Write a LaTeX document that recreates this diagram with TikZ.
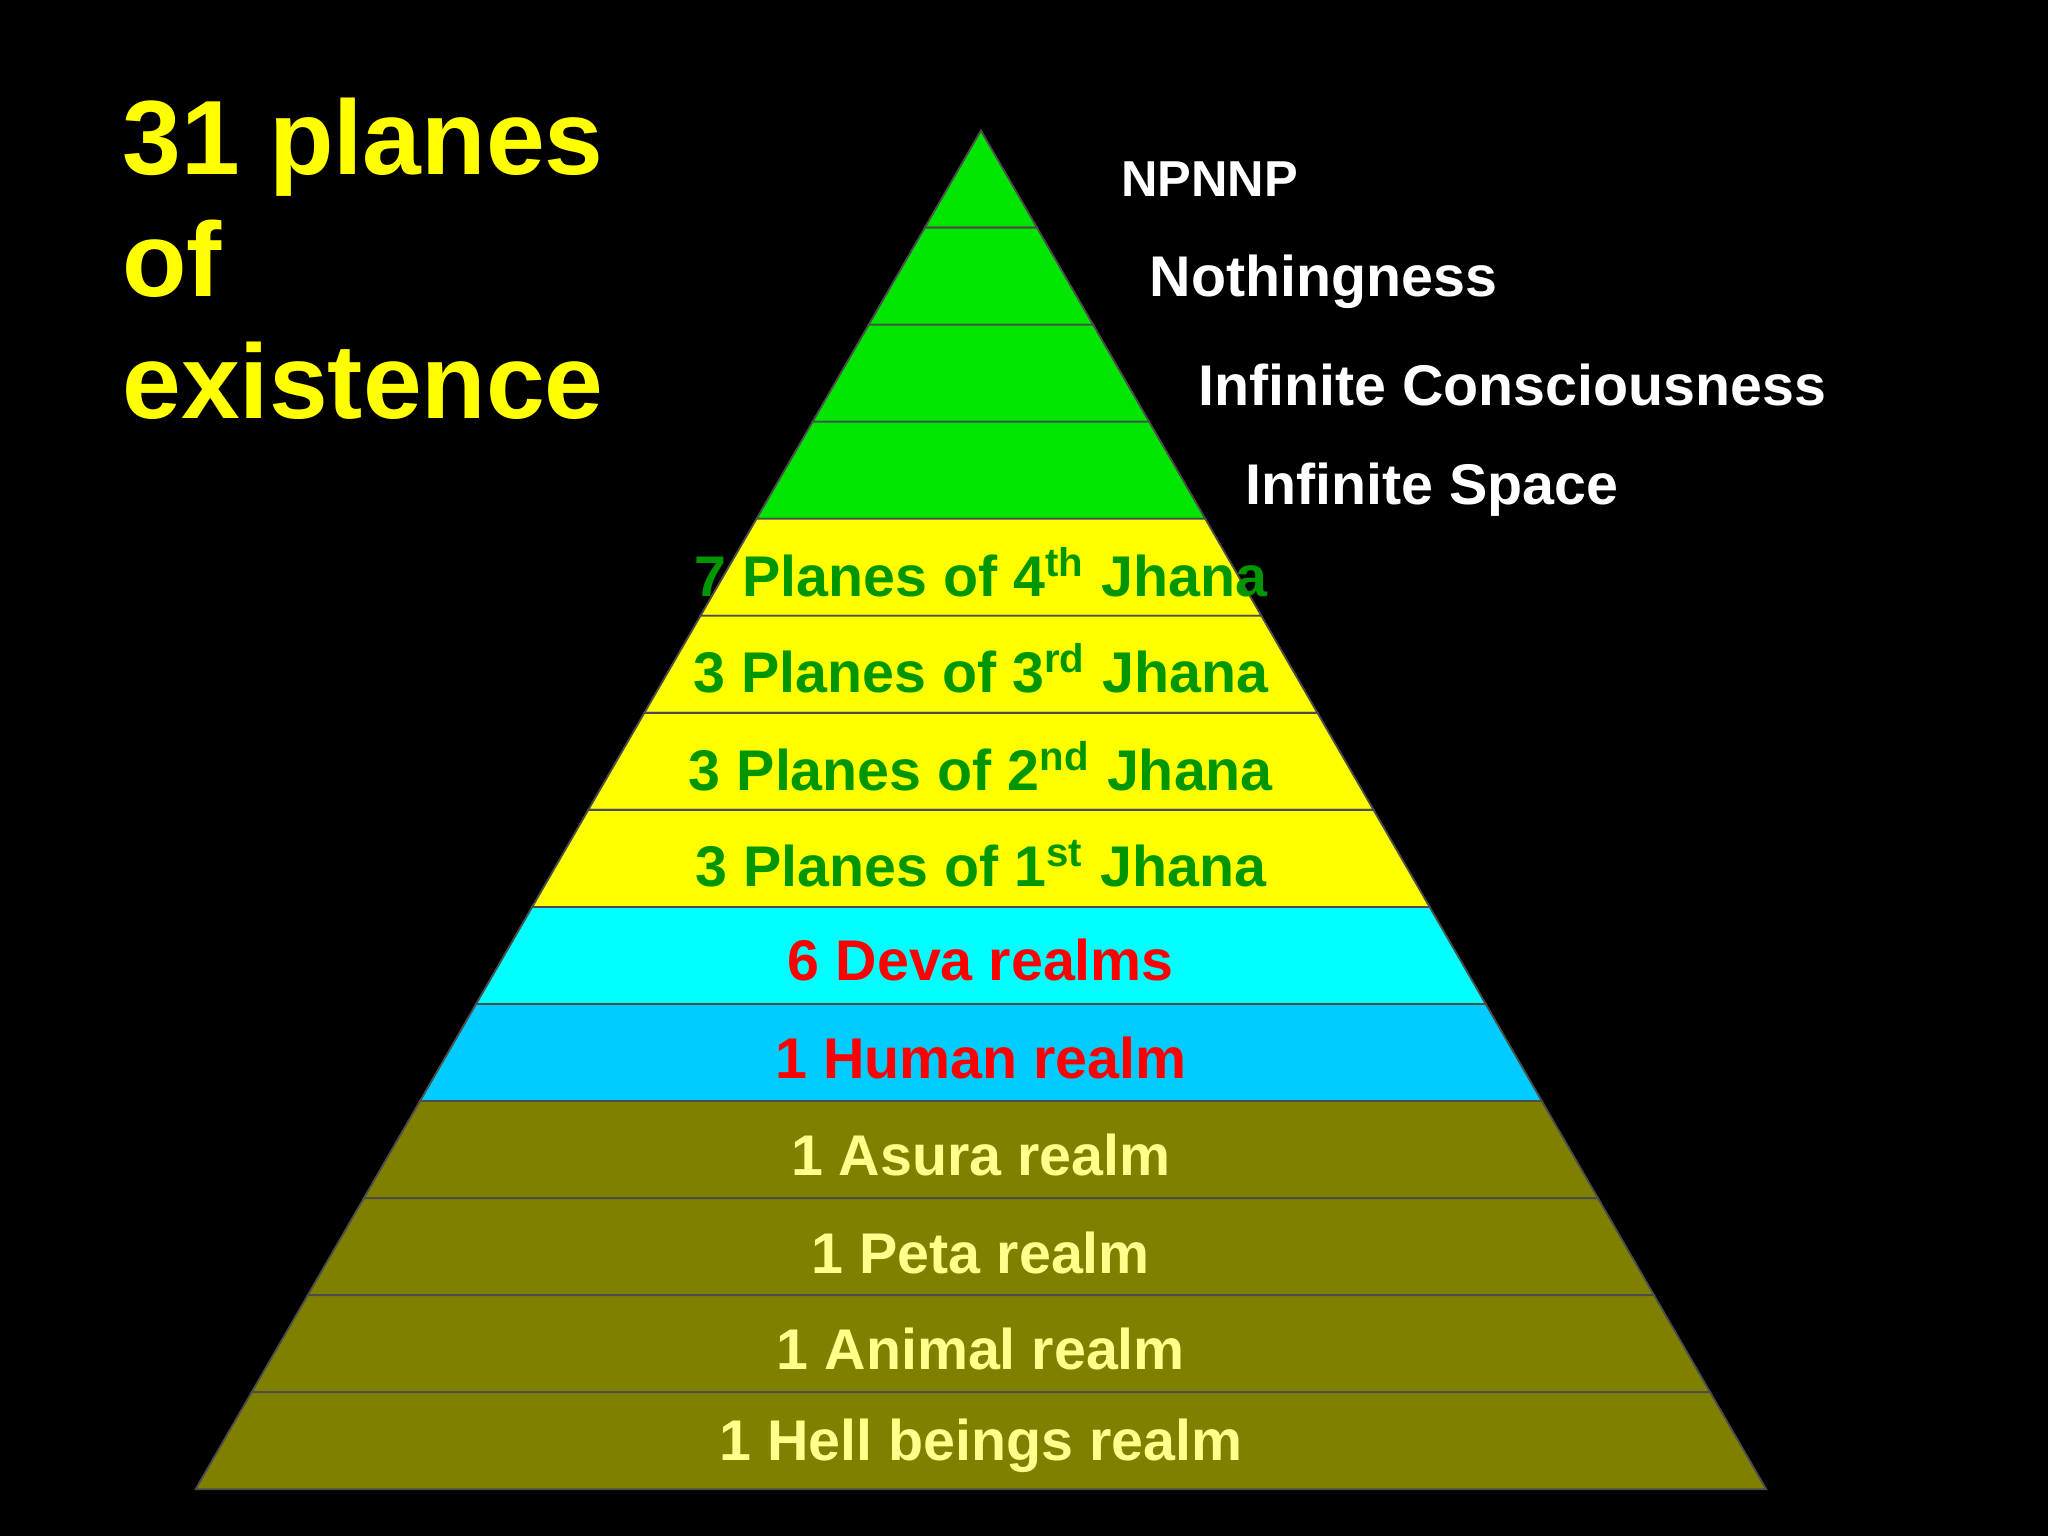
\documentclass[tikz,border=0pt]{standalone}
\usepackage{fontspec}
\setmainfont{Liberation Sans}
\usepackage{tikz}
\definecolor{grn}{RGB}{0,230,0}
\definecolor{ylw}{RGB}{255,255,0}
\definecolor{cyn}{RGB}{0,255,255}
\definecolor{sky}{RGB}{0,204,255}
\definecolor{olv}{RGB}{128,128,0}
\definecolor{dkgrn}{RGB}{0,150,0}
\definecolor{ltylw}{RGB}{255,255,140}
\tikzset{
  band/.style={font=\bfseries\fontsize{12.5}{14}\selectfont},
  side/.style={anchor=west, text=white, font=\bfseries\fontsize{12.5}{14}\selectfont},
}
\begin{document}
\begin{tikzpicture}
    \fill[black] (0,0) rectangle (15.68,11.76);
    % pyramid bands
    \foreach \i/\c in {0/grn,1/grn,2/grn,3/grn,4/ylw,5/ylw,6/ylw,7/ylw,8/cyn,9/sky,10/olv,11/olv,12/olv,13/olv}{
      \pgfmathsetmacro{\yt}{10.76-\i*0.743}
      \pgfmathsetmacro{\yb}{\yt-0.743}
      \pgfmathsetmacro{\wt}{0.578*\i*0.743}
      \pgfmathsetmacro{\wb}{\wt+0.578*0.743}
      \fill[\c, draw=black!70!white, line width=0.4pt] (7.51-\wt,\yt) -- (7.51+\wt,\yt) -- (7.51+\wb,\yb) -- (7.51-\wb,\yb) -- cycle;
    }
    % band labels
    \node[band, text=dkgrn] (J4) at (7.51,7.38) {7 Planes of 4\textsuperscript{th} Jhana};
    \node[band, text=dkgrn] (J3) at (7.51,6.64) {3 Planes of 3\textsuperscript{rd} Jhana};
    \node[band, text=dkgrn] (J2) at (7.51,5.89) {3 Planes of 2\textsuperscript{nd} Jhana};
    \node[band, text=dkgrn] (J1) at (7.51,5.15) {3 Planes of 1\textsuperscript{st} Jhana};
    \node[band, text=red] (deva) at (7.51,4.41) {6 Deva realms};
    \node[band, text=red] (human) at (7.51,3.66) {1 Human realm};
    \node[band, text=ltylw] (asura) at (7.51,2.92) {1 Asura realm};
    \node[band, text=ltylw] (peta) at (7.51,2.17) {1 Peta realm};
    \node[band, text=ltylw] (animal) at (7.51,1.43) {1 Animal realm};
    \node[band, text=ltylw] (hell) at (7.51,0.69) {1 Hell beings realm};
    % formless planes
    \node[side, font=\bfseries\fontsize{11}{13}\selectfont] (npnnp) at (8.46,10.39) {NPNNP};
    \node[side] (noth) at (8.68,9.60) {Nothingness};
    \node[side] (cons) at (9.05,8.81) {Infinite Consciousness};
    \node[side] (space) at (9.41,8.01) {Infinite Space};
    % title
    \node[anchor=north west, align=left, text=ylw, inner sep=0pt,
      font=\bfseries\fontsize{23}{26.6}\selectfont] (title) at (0.93,11.02) {31 planes\\of\\existence};
\end{tikzpicture}
\end{document}
